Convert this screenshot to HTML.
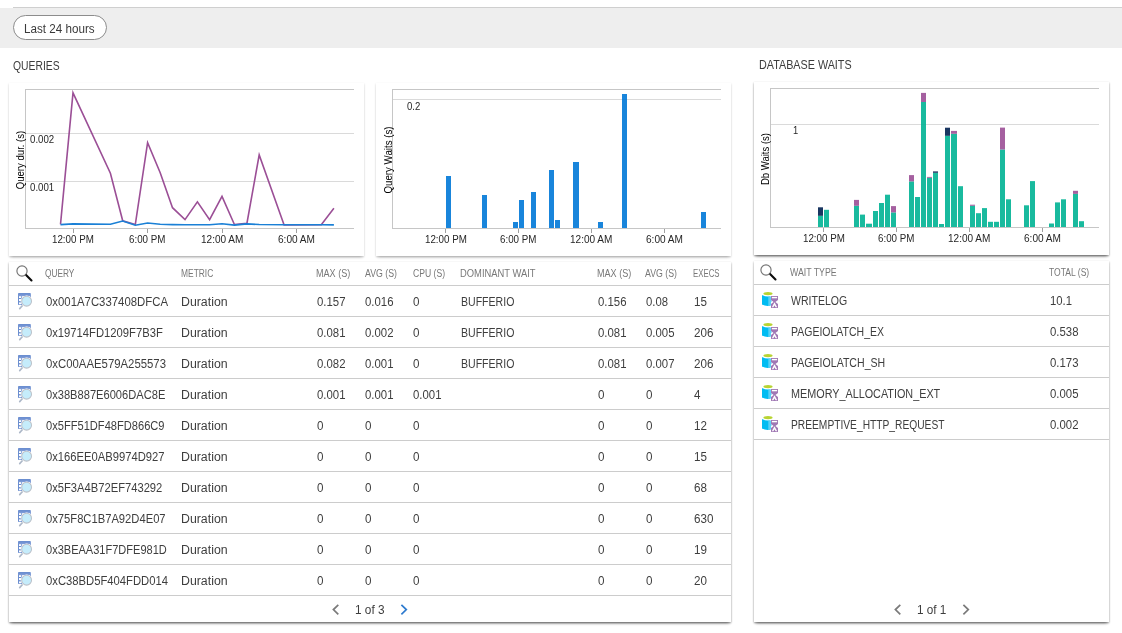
<!DOCTYPE html>
<html lang="en"><head><meta charset="utf-8"><title>Query Performance</title>
<style>
html,body{margin:0;padding:0;background:#fff;}
body{width:1122px;height:633px;position:relative;overflow:hidden;font-family:"Liberation Sans",sans-serif;}
.t{position:absolute;white-space:nowrap;transform-origin:0 0;display:block;}
.r{position:absolute;}
.ov{position:absolute;left:0;top:0;overflow:visible;}
.card{position:absolute;background:#fff;box-shadow:0 1px 2px rgba(0,0,0,.42),0 3px 3px -2px rgba(0,0,0,.45);}
.card.lite{box-shadow:0 1px 2px rgba(0,0,0,.2),0 3px 3px -2px rgba(0,0,0,.24);}
.pill{position:absolute;background:#fff;border:1px solid #8c8c8c;border-radius:13px;}
</style></head><body>
<div class="r" style="left:13px;top:7px;width:1109px;height:1px;background:#cfcfcf;"></div>
<div class="r" style="left:0px;top:8px;width:1122px;height:40px;background:#eeeeee;"></div>
<div class="pill" style="left:13px;top:15px;width:92px;height:23px;"></div>
<span class="t" style="left:24.00px;top:22px;font-size:12px;line-height:14px;color:#3a3a3a;transform:scaleX(0.9709);">Last 24 hours</span>
<span class="t" style="left:13.30px;top:59px;font-size:12px;line-height:14px;color:#3c3c3c;transform:scaleX(0.8628);">QUERIES</span>
<span class="t" style="left:759.30px;top:58px;font-size:12px;line-height:14px;color:#3c3c3c;transform:scaleX(0.8979);">DATABASE WAITS</span>
<div class="card lite" style="left:9px;top:83px;width:355px;height:173px;"></div>
<div class="card lite" style="left:376px;top:83px;width:355px;height:173px;"></div>
<div class="card" style="left:754px;top:82px;width:355px;height:173px;"></div>
<div class="card" style="left:9px;top:262px;width:722px;height:360px;"></div>
<div class="card" style="left:754px;top:261px;width:355px;height:361px;"></div>
<svg class="ov" width="1122" height="633" viewBox="0 0 1122 633"><rect x="25" y="89" width="329" height="1" fill="#c6c6c6"/><rect x="25" y="133" width="329" height="1" fill="#dadada"/><rect x="25" y="181" width="329" height="1" fill="#dadada"/><rect x="25" y="228" width="329" height="1" fill="#c6c6c6"/><rect x="25" y="89" width="1" height="140" fill="#c6c6c6"/><rect x="73" y="229" width="1" height="4" fill="#a0a0a0"/><rect x="147" y="229" width="1" height="4" fill="#a0a0a0"/><rect x="222" y="229" width="1" height="4" fill="#a0a0a0"/><rect x="296" y="229" width="1" height="4" fill="#a0a0a0"/><polyline fill="none" stroke="#9b4f96" stroke-width="1.6" stroke-linejoin="miter" points="60.5,224.3 73.0,92.8 110.4,173.2 122.7,220.8 135.3,224.5 147.6,142.6 160.2,172.7 172.5,207.7 185.0,219.6 197.4,201.8 209.6,219.6 222.0,196.4 234.4,224.5 246.9,223.4 259.2,154.9 284.1,224.9 321.3,224.8 333.9,208.2"/><polyline fill="none" stroke="#1a80d6" stroke-width="1.6" stroke-linejoin="miter" points="60.5,224.6 73.0,223.9 110.4,224.3 122.7,221.0 135.3,225.2 147.6,223.0 160.2,224.3 172.5,224.6 185.0,224.8 209.6,224.8 222.0,223.8 234.4,225.1 246.9,223.9 259.2,224.5 284.1,224.8 321.3,224.7 333.9,224.9"/><rect x="392" y="89" width="329" height="1" fill="#c6c6c6"/><rect x="392" y="99" width="329" height="1" fill="#dadada"/><rect x="392" y="228" width="329" height="1" fill="#c6c6c6"/><rect x="392" y="89" width="1" height="140" fill="#c6c6c6"/><rect x="445" y="229" width="1" height="4" fill="#a0a0a0"/><rect x="518" y="229" width="1" height="4" fill="#a0a0a0"/><rect x="591" y="229" width="1" height="4" fill="#a0a0a0"/><rect x="664" y="229" width="1" height="4" fill="#a0a0a0"/><rect x="446" y="176" width="5" height="52" fill="#0078d7" fill-opacity=".9"/><rect x="482" y="195" width="5" height="33" fill="#0078d7" fill-opacity=".9"/><rect x="513" y="222" width="5" height="6" fill="#0078d7" fill-opacity=".9"/><rect x="519" y="200" width="5" height="28" fill="#0078d7" fill-opacity=".9"/><rect x="531" y="192" width="5" height="36" fill="#0078d7" fill-opacity=".9"/><rect x="549" y="170" width="5" height="58" fill="#0078d7" fill-opacity=".9"/><rect x="555" y="220" width="5" height="8" fill="#0078d7" fill-opacity=".9"/><rect x="573" y="162" width="6" height="66" fill="#0078d7" fill-opacity=".9"/><rect x="598" y="222" width="5" height="6" fill="#0078d7" fill-opacity=".9"/><rect x="622" y="94" width="5" height="134" fill="#0078d7" fill-opacity=".9"/><rect x="701" y="212" width="5" height="16" fill="#0078d7" fill-opacity=".9"/><rect x="770" y="88" width="329" height="1" fill="#c6c6c6"/><rect x="770" y="124" width="329" height="1" fill="#dadada"/><rect x="770" y="227" width="329" height="1" fill="#c6c6c6"/><rect x="770" y="88" width="1" height="140" fill="#c6c6c6"/><rect x="823" y="228" width="1" height="4" fill="#a0a0a0"/><rect x="896" y="228" width="1" height="4" fill="#a0a0a0"/><rect x="969" y="228" width="1" height="4" fill="#a0a0a0"/><rect x="1042" y="228" width="1" height="4" fill="#a0a0a0"/><rect x="818" y="215.8" width="5" height="11.2" fill="#00b294" fill-opacity=".9"/><rect x="818" y="207.3" width="5" height="8.5" fill="#002050" fill-opacity=".9"/><rect x="824" y="209.8" width="5" height="17.2" fill="#00b294" fill-opacity=".9"/><rect x="854" y="205.8" width="5" height="21.2" fill="#00b294" fill-opacity=".9"/><rect x="854" y="199.9" width="5" height="5.9" fill="#9b4f96" fill-opacity=".9"/><rect x="860" y="214.6" width="5" height="12.4" fill="#00b294" fill-opacity=".9"/><rect x="866" y="223.7" width="6" height="3.3" fill="#00b294" fill-opacity=".9"/><rect x="873" y="211.0" width="5" height="16.0" fill="#00b294" fill-opacity=".9"/><rect x="879" y="203.0" width="5" height="24.0" fill="#00b294" fill-opacity=".9"/><rect x="885" y="194.7" width="5" height="32.3" fill="#00b294" fill-opacity=".9"/><rect x="891" y="212.4" width="5" height="14.6" fill="#00b294" fill-opacity=".9"/><rect x="891" y="206.1" width="5" height="6.3" fill="#9b4f96" fill-opacity=".9"/><rect x="909" y="181.4" width="5" height="45.6" fill="#00b294" fill-opacity=".9"/><rect x="909" y="175.1" width="5" height="6.3" fill="#9b4f96" fill-opacity=".9"/><rect x="915" y="197.0" width="5" height="30.0" fill="#00b294" fill-opacity=".9"/><rect x="921" y="102.0" width="5" height="125.0" fill="#00b294" fill-opacity=".9"/><rect x="921" y="92.9" width="5" height="9.1" fill="#9b4f96" fill-opacity=".9"/><rect x="927" y="177.8" width="5" height="49.2" fill="#00b294" fill-opacity=".9"/><rect x="927" y="176.9" width="5" height="0.9" fill="#9b4f96" fill-opacity=".9"/><rect x="933" y="172.8" width="5" height="54.2" fill="#00b294" fill-opacity=".9"/><rect x="933" y="171.4" width="5" height="1.4" fill="#002050" fill-opacity=".9"/><rect x="939" y="224.0" width="5" height="3.0" fill="#00b294" fill-opacity=".9"/><rect x="945" y="135.8" width="5" height="91.2" fill="#00b294" fill-opacity=".9"/><rect x="945" y="127.7" width="5" height="8.1" fill="#002050" fill-opacity=".9"/><rect x="951" y="133.8" width="6" height="93.2" fill="#00b294" fill-opacity=".9"/><rect x="951" y="130.9" width="6" height="2.9" fill="#9b4f96" fill-opacity=".9"/><rect x="958" y="186.2" width="5" height="40.8" fill="#00b294" fill-opacity=".9"/><rect x="970" y="205.8" width="5" height="21.2" fill="#00b294" fill-opacity=".9"/><rect x="970" y="204.7" width="5" height="1.1" fill="#9b4f96" fill-opacity=".9"/><rect x="976" y="213.2" width="5" height="13.8" fill="#00b294" fill-opacity=".9"/><rect x="982" y="208.1" width="5" height="18.9" fill="#00b294" fill-opacity=".9"/><rect x="988" y="221.8" width="5" height="5.2" fill="#00b294" fill-opacity=".9"/><rect x="994" y="221.8" width="5" height="5.2" fill="#00b294" fill-opacity=".9"/><rect x="1000" y="149.5" width="5" height="77.5" fill="#00b294" fill-opacity=".9"/><rect x="1000" y="127.6" width="5" height="21.9" fill="#9b4f96" fill-opacity=".9"/><rect x="1006" y="199.3" width="5" height="27.7" fill="#00b294" fill-opacity=".9"/><rect x="1024" y="205.3" width="5" height="21.7" fill="#00b294" fill-opacity=".9"/><rect x="1030" y="181.1" width="5" height="45.9" fill="#00b294" fill-opacity=".9"/><rect x="1049" y="223.5" width="5" height="3.5" fill="#00b294" fill-opacity=".9"/><rect x="1055" y="202.4" width="5" height="24.6" fill="#00b294" fill-opacity=".9"/><rect x="1061" y="199.3" width="5" height="27.7" fill="#00b294" fill-opacity=".9"/><rect x="1073" y="193.9" width="5" height="33.1" fill="#00b294" fill-opacity=".9"/><rect x="1073" y="190.8" width="5" height="3.1" fill="#9b4f96" fill-opacity=".9"/><rect x="1079" y="221.2" width="5" height="5.8" fill="#00b294" fill-opacity=".9"/></svg>
<span class="t" style="left:29.70px;top:134px;font-size:10px;line-height:12px;color:#262626;transform:scaleX(0.9671);">0.002</span>
<span class="t" style="left:29.70px;top:182px;font-size:10px;line-height:12px;color:#262626;transform:scaleX(0.9671);">0.001</span>
<span class="t" style="left:52.40px;top:234px;font-size:10px;line-height:12px;color:#262626;transform:scaleX(0.9766);">12:00 PM</span>
<span class="t" style="left:129.40px;top:234px;font-size:10px;line-height:12px;color:#262626;transform:scaleX(0.9774);">6:00 PM</span>
<span class="t" style="left:201.10px;top:234px;font-size:10px;line-height:12px;color:#262626;transform:scaleX(1.0035);">12:00 AM</span>
<span class="t" style="left:278.00px;top:234px;font-size:10px;line-height:12px;color:#262626;transform:scaleX(1.0085);">6:00 AM</span>
<span class="t" style="left:24.40px;top:160.40px;font-size:10px;line-height:12px;color:#000;transform-origin:0 0;transform:rotate(-90deg) translate(-29.30px,-9.46px) scaleX(0.9586);">Query dur. (s)</span>
<span class="t" style="left:406.90px;top:101px;font-size:10px;line-height:12px;color:#262626;transform:scaleX(0.9567);">0.2</span>
<span class="t" style="left:424.80px;top:234px;font-size:10px;line-height:12px;color:#262626;transform:scaleX(0.9766);">12:00 PM</span>
<span class="t" style="left:500.40px;top:234px;font-size:10px;line-height:12px;color:#262626;transform:scaleX(0.9774);">6:00 PM</span>
<span class="t" style="left:570.30px;top:234px;font-size:10px;line-height:12px;color:#262626;transform:scaleX(1.0035);">12:00 AM</span>
<span class="t" style="left:645.90px;top:234px;font-size:10px;line-height:12px;color:#262626;transform:scaleX(1.0085);">6:00 AM</span>
<span class="t" style="left:391.60px;top:160.00px;font-size:10px;line-height:12px;color:#000;transform-origin:0 0;transform:rotate(-90deg) translate(-33.50px,-9.46px) scaleX(0.9699);">Query Waits (s)</span>
<span class="t" style="left:792.60px;top:125px;font-size:10px;line-height:12px;color:#262626;transform:scaleX(0.9350);">1</span>
<span class="t" style="left:802.60px;top:233px;font-size:10px;line-height:12px;color:#262626;transform:scaleX(0.9766);">12:00 PM</span>
<span class="t" style="left:878.40px;top:233px;font-size:10px;line-height:12px;color:#262626;transform:scaleX(0.9774);">6:00 PM</span>
<span class="t" style="left:948.30px;top:233px;font-size:10px;line-height:12px;color:#262626;transform:scaleX(1.0035);">12:00 AM</span>
<span class="t" style="left:1024.10px;top:233px;font-size:10px;line-height:12px;color:#262626;transform:scaleX(1.0085);">6:00 AM</span>
<span class="t" style="left:769.20px;top:159.00px;font-size:10px;line-height:12px;color:#000;transform-origin:0 0;transform:rotate(-90deg) translate(-26.00px,-9.46px) scaleX(0.9519);">Db Waits (s)</span>
<div class="r" style="left:9px;top:285px;width:722px;height:1px;background:#cccccc;"></div>
<div class="r" style="left:9px;top:316px;width:722px;height:1px;background:#cccccc;"></div>
<div class="r" style="left:9px;top:347px;width:722px;height:1px;background:#cccccc;"></div>
<div class="r" style="left:9px;top:378px;width:722px;height:1px;background:#cccccc;"></div>
<div class="r" style="left:9px;top:409px;width:722px;height:1px;background:#cccccc;"></div>
<div class="r" style="left:9px;top:440px;width:722px;height:1px;background:#cccccc;"></div>
<div class="r" style="left:9px;top:471px;width:722px;height:1px;background:#cccccc;"></div>
<div class="r" style="left:9px;top:502px;width:722px;height:1px;background:#cccccc;"></div>
<div class="r" style="left:9px;top:533px;width:722px;height:1px;background:#cccccc;"></div>
<div class="r" style="left:9px;top:564px;width:722px;height:1px;background:#cccccc;"></div>
<div class="r" style="left:9px;top:595px;width:722px;height:1px;background:#cccccc;"></div>
<div class="r" style="left:754px;top:284px;width:355px;height:1px;background:#cccccc;"></div>
<div class="r" style="left:754px;top:315px;width:355px;height:1px;background:#cccccc;"></div>
<div class="r" style="left:754px;top:346px;width:355px;height:1px;background:#cccccc;"></div>
<div class="r" style="left:754px;top:377px;width:355px;height:1px;background:#cccccc;"></div>
<div class="r" style="left:754px;top:408px;width:355px;height:1px;background:#cccccc;"></div>
<div class="r" style="left:754px;top:439px;width:355px;height:1px;background:#cccccc;"></div>
<svg class="ov" style="left:13.5px;top:262.7px" width="22" height="22" viewBox="-8 -8 22 22"><circle cx="0" cy="0" r="5.1" fill="none" stroke="#747474" stroke-width="1.15"/><path d="M4.3 4.2 L9.5 9.4" stroke="#0c0c0c" stroke-width="2.1" stroke-linecap="round"/></svg>
<svg class="ov" style="left:758.3px;top:261.7px" width="22" height="22" viewBox="-8 -8 22 22"><circle cx="0" cy="0" r="5.1" fill="none" stroke="#747474" stroke-width="1.15"/><path d="M4.3 4.2 L9.5 9.4" stroke="#0c0c0c" stroke-width="2.1" stroke-linecap="round"/></svg>
<span class="t" style="left:45.00px;top:268px;font-size:10px;line-height:12px;color:#787878;transform:scaleX(0.8281);">QUERY</span>
<span class="t" style="left:180.60px;top:268px;font-size:10px;line-height:12px;color:#787878;transform:scaleX(0.8427);">METRIC</span>
<span class="t" style="left:316.20px;top:268px;font-size:10px;line-height:12px;color:#787878;transform:scaleX(0.9079);">MAX (S)</span>
<span class="t" style="left:364.70px;top:268px;font-size:10px;line-height:12px;color:#787878;transform:scaleX(0.8771);">AVG (S)</span>
<span class="t" style="left:412.70px;top:268px;font-size:10px;line-height:12px;color:#787878;transform:scaleX(0.8597);">CPU (S)</span>
<span class="t" style="left:460.40px;top:268px;font-size:10px;line-height:12px;color:#787878;transform:scaleX(0.9385);">DOMINANT WAIT</span>
<span class="t" style="left:596.50px;top:268px;font-size:10px;line-height:12px;color:#787878;transform:scaleX(0.9079);">MAX (S)</span>
<span class="t" style="left:644.70px;top:268px;font-size:10px;line-height:12px;color:#787878;transform:scaleX(0.8771);">AVG (S)</span>
<span class="t" style="left:693.00px;top:268px;font-size:10px;line-height:12px;color:#787878;transform:scaleX(0.7817);">EXECS</span>
<span class="t" style="left:789.70px;top:267px;font-size:10px;line-height:12px;color:#787878;transform:scaleX(0.8785);">WAIT TYPE</span>
<span class="t" style="left:1048.80px;top:267px;font-size:10px;line-height:12px;color:#787878;transform:scaleX(0.8546);">TOTAL (S)</span>
<svg class="ov" style="left:18px;top:293px" width="16" height="17" viewBox="0 0 16 17"><rect x="0" y="0" width="12.8" height="12" rx="0.8" fill="#6b8ed0"/><rect x="0.4" y="1.6" width="12" height="1.6" fill="#7c9ad6"/><rect x="1" y="3.2" width="2.2" height="1.8" fill="#fff"/><rect x="1" y="6" width="2.2" height="2.1" fill="#fff"/><rect x="1" y="9.4" width="2.2" height="1.9" fill="#fff"/><rect x="3.9" y="3.2" width="8" height="8.1" fill="#fff"/><path d="M4.5 12.5 L1.7 15.6" stroke="#adb8c8" stroke-width="1.6" stroke-linecap="round"/><circle cx="8.6" cy="8.2" r="5.8" fill="#fff"/><circle cx="8.6" cy="8.2" r="4.9" fill="#c5ecfb" stroke="#bcc1c9" stroke-width="1.05"/></svg>
<span class="t" style="left:45.50px;top:295px;font-size:12px;line-height:14px;color:#3e3e3e;transform:scaleX(0.9476);">0x001A7C337408DFCA</span>
<span class="t" style="left:181.30px;top:295px;font-size:12px;line-height:14px;color:#3e3e3e;transform:scaleX(1.0274);">Duration</span>
<span class="t" style="left:317.30px;top:295px;font-size:12px;line-height:14px;color:#3e3e3e;transform:scaleX(0.9484);">0.157</span>
<span class="t" style="left:365.30px;top:295px;font-size:12px;line-height:14px;color:#3e3e3e;transform:scaleX(0.9484);">0.016</span>
<span class="t" style="left:413.30px;top:295px;font-size:12px;line-height:14px;color:#3e3e3e;transform:scaleX(0.9695);">0</span>
<span class="t" style="left:597.60px;top:295px;font-size:12px;line-height:14px;color:#3e3e3e;transform:scaleX(0.9484);">0.156</span>
<span class="t" style="left:645.60px;top:295px;font-size:12px;line-height:14px;color:#3e3e3e;transform:scaleX(0.9424);">0.08</span>
<span class="t" style="left:693.60px;top:295px;font-size:12px;line-height:14px;color:#3e3e3e;transform:scaleX(0.9695);">15</span>
<span class="t" style="left:461.20px;top:295px;font-size:12px;line-height:14px;color:#3e3e3e;transform:scaleX(0.8802);">BUFFERIO</span>
<svg class="ov" style="left:18px;top:324px" width="16" height="17" viewBox="0 0 16 17"><rect x="0" y="0" width="12.8" height="12" rx="0.8" fill="#6b8ed0"/><rect x="0.4" y="1.6" width="12" height="1.6" fill="#7c9ad6"/><rect x="1" y="3.2" width="2.2" height="1.8" fill="#fff"/><rect x="1" y="6" width="2.2" height="2.1" fill="#fff"/><rect x="1" y="9.4" width="2.2" height="1.9" fill="#fff"/><rect x="3.9" y="3.2" width="8" height="8.1" fill="#fff"/><path d="M4.5 12.5 L1.7 15.6" stroke="#adb8c8" stroke-width="1.6" stroke-linecap="round"/><circle cx="8.6" cy="8.2" r="5.8" fill="#fff"/><circle cx="8.6" cy="8.2" r="4.9" fill="#c5ecfb" stroke="#bcc1c9" stroke-width="1.05"/></svg>
<span class="t" style="left:45.50px;top:326px;font-size:12px;line-height:14px;color:#3e3e3e;transform:scaleX(0.9363);">0x19714FD1209F7B3F</span>
<span class="t" style="left:181.30px;top:326px;font-size:12px;line-height:14px;color:#3e3e3e;transform:scaleX(1.0274);">Duration</span>
<span class="t" style="left:317.30px;top:326px;font-size:12px;line-height:14px;color:#3e3e3e;transform:scaleX(0.9484);">0.081</span>
<span class="t" style="left:365.30px;top:326px;font-size:12px;line-height:14px;color:#3e3e3e;transform:scaleX(0.9484);">0.002</span>
<span class="t" style="left:413.30px;top:326px;font-size:12px;line-height:14px;color:#3e3e3e;transform:scaleX(0.9695);">0</span>
<span class="t" style="left:597.60px;top:326px;font-size:12px;line-height:14px;color:#3e3e3e;transform:scaleX(0.9484);">0.081</span>
<span class="t" style="left:645.60px;top:326px;font-size:12px;line-height:14px;color:#3e3e3e;transform:scaleX(0.9484);">0.005</span>
<span class="t" style="left:693.60px;top:326px;font-size:12px;line-height:14px;color:#3e3e3e;transform:scaleX(0.9695);">206</span>
<span class="t" style="left:461.20px;top:326px;font-size:12px;line-height:14px;color:#3e3e3e;transform:scaleX(0.8802);">BUFFERIO</span>
<svg class="ov" style="left:18px;top:355px" width="16" height="17" viewBox="0 0 16 17"><rect x="0" y="0" width="12.8" height="12" rx="0.8" fill="#6b8ed0"/><rect x="0.4" y="1.6" width="12" height="1.6" fill="#7c9ad6"/><rect x="1" y="3.2" width="2.2" height="1.8" fill="#fff"/><rect x="1" y="6" width="2.2" height="2.1" fill="#fff"/><rect x="1" y="9.4" width="2.2" height="1.9" fill="#fff"/><rect x="3.9" y="3.2" width="8" height="8.1" fill="#fff"/><path d="M4.5 12.5 L1.7 15.6" stroke="#adb8c8" stroke-width="1.6" stroke-linecap="round"/><circle cx="8.6" cy="8.2" r="5.8" fill="#fff"/><circle cx="8.6" cy="8.2" r="4.9" fill="#c5ecfb" stroke="#bcc1c9" stroke-width="1.05"/></svg>
<span class="t" style="left:45.50px;top:357px;font-size:12px;line-height:14px;color:#3e3e3e;transform:scaleX(0.9466);">0xC00AAE579A255573</span>
<span class="t" style="left:181.30px;top:357px;font-size:12px;line-height:14px;color:#3e3e3e;transform:scaleX(1.0274);">Duration</span>
<span class="t" style="left:317.30px;top:357px;font-size:12px;line-height:14px;color:#3e3e3e;transform:scaleX(0.9484);">0.082</span>
<span class="t" style="left:365.30px;top:357px;font-size:12px;line-height:14px;color:#3e3e3e;transform:scaleX(0.9484);">0.001</span>
<span class="t" style="left:413.30px;top:357px;font-size:12px;line-height:14px;color:#3e3e3e;transform:scaleX(0.9695);">0</span>
<span class="t" style="left:597.60px;top:357px;font-size:12px;line-height:14px;color:#3e3e3e;transform:scaleX(0.9484);">0.081</span>
<span class="t" style="left:645.60px;top:357px;font-size:12px;line-height:14px;color:#3e3e3e;transform:scaleX(0.9484);">0.007</span>
<span class="t" style="left:693.60px;top:357px;font-size:12px;line-height:14px;color:#3e3e3e;transform:scaleX(0.9695);">206</span>
<span class="t" style="left:461.20px;top:357px;font-size:12px;line-height:14px;color:#3e3e3e;transform:scaleX(0.8802);">BUFFERIO</span>
<svg class="ov" style="left:18px;top:386px" width="16" height="17" viewBox="0 0 16 17"><rect x="0" y="0" width="12.8" height="12" rx="0.8" fill="#6b8ed0"/><rect x="0.4" y="1.6" width="12" height="1.6" fill="#7c9ad6"/><rect x="1" y="3.2" width="2.2" height="1.8" fill="#fff"/><rect x="1" y="6" width="2.2" height="2.1" fill="#fff"/><rect x="1" y="9.4" width="2.2" height="1.9" fill="#fff"/><rect x="3.9" y="3.2" width="8" height="8.1" fill="#fff"/><path d="M4.5 12.5 L1.7 15.6" stroke="#adb8c8" stroke-width="1.6" stroke-linecap="round"/><circle cx="8.6" cy="8.2" r="5.8" fill="#fff"/><circle cx="8.6" cy="8.2" r="4.9" fill="#c5ecfb" stroke="#bcc1c9" stroke-width="1.05"/></svg>
<span class="t" style="left:45.50px;top:388px;font-size:12px;line-height:14px;color:#3e3e3e;transform:scaleX(0.9265);">0x38B887E6006DAC8E</span>
<span class="t" style="left:181.30px;top:388px;font-size:12px;line-height:14px;color:#3e3e3e;transform:scaleX(1.0274);">Duration</span>
<span class="t" style="left:317.30px;top:388px;font-size:12px;line-height:14px;color:#3e3e3e;transform:scaleX(0.9484);">0.001</span>
<span class="t" style="left:365.30px;top:388px;font-size:12px;line-height:14px;color:#3e3e3e;transform:scaleX(0.9484);">0.001</span>
<span class="t" style="left:413.30px;top:388px;font-size:12px;line-height:14px;color:#3e3e3e;transform:scaleX(0.9484);">0.001</span>
<span class="t" style="left:597.60px;top:388px;font-size:12px;line-height:14px;color:#3e3e3e;transform:scaleX(0.9695);">0</span>
<span class="t" style="left:645.60px;top:388px;font-size:12px;line-height:14px;color:#3e3e3e;transform:scaleX(0.9695);">0</span>
<span class="t" style="left:693.60px;top:388px;font-size:12px;line-height:14px;color:#3e3e3e;transform:scaleX(0.9695);">4</span>
<svg class="ov" style="left:18px;top:417px" width="16" height="17" viewBox="0 0 16 17"><rect x="0" y="0" width="12.8" height="12" rx="0.8" fill="#6b8ed0"/><rect x="0.4" y="1.6" width="12" height="1.6" fill="#7c9ad6"/><rect x="1" y="3.2" width="2.2" height="1.8" fill="#fff"/><rect x="1" y="6" width="2.2" height="2.1" fill="#fff"/><rect x="1" y="9.4" width="2.2" height="1.9" fill="#fff"/><rect x="3.9" y="3.2" width="8" height="8.1" fill="#fff"/><path d="M4.5 12.5 L1.7 15.6" stroke="#adb8c8" stroke-width="1.6" stroke-linecap="round"/><circle cx="8.6" cy="8.2" r="5.8" fill="#fff"/><circle cx="8.6" cy="8.2" r="4.9" fill="#c5ecfb" stroke="#bcc1c9" stroke-width="1.05"/></svg>
<span class="t" style="left:45.50px;top:419px;font-size:12px;line-height:14px;color:#3e3e3e;transform:scaleX(0.9254);">0x5FF51DF48FD866C9</span>
<span class="t" style="left:181.30px;top:419px;font-size:12px;line-height:14px;color:#3e3e3e;transform:scaleX(1.0274);">Duration</span>
<span class="t" style="left:317.30px;top:419px;font-size:12px;line-height:14px;color:#3e3e3e;transform:scaleX(0.9695);">0</span>
<span class="t" style="left:365.30px;top:419px;font-size:12px;line-height:14px;color:#3e3e3e;transform:scaleX(0.9695);">0</span>
<span class="t" style="left:413.30px;top:419px;font-size:12px;line-height:14px;color:#3e3e3e;transform:scaleX(0.9695);">0</span>
<span class="t" style="left:597.60px;top:419px;font-size:12px;line-height:14px;color:#3e3e3e;transform:scaleX(0.9695);">0</span>
<span class="t" style="left:645.60px;top:419px;font-size:12px;line-height:14px;color:#3e3e3e;transform:scaleX(0.9695);">0</span>
<span class="t" style="left:693.60px;top:419px;font-size:12px;line-height:14px;color:#3e3e3e;transform:scaleX(0.9695);">12</span>
<svg class="ov" style="left:18px;top:448px" width="16" height="17" viewBox="0 0 16 17"><rect x="0" y="0" width="12.8" height="12" rx="0.8" fill="#6b8ed0"/><rect x="0.4" y="1.6" width="12" height="1.6" fill="#7c9ad6"/><rect x="1" y="3.2" width="2.2" height="1.8" fill="#fff"/><rect x="1" y="6" width="2.2" height="2.1" fill="#fff"/><rect x="1" y="9.4" width="2.2" height="1.9" fill="#fff"/><rect x="3.9" y="3.2" width="8" height="8.1" fill="#fff"/><path d="M4.5 12.5 L1.7 15.6" stroke="#adb8c8" stroke-width="1.6" stroke-linecap="round"/><circle cx="8.6" cy="8.2" r="5.8" fill="#fff"/><circle cx="8.6" cy="8.2" r="4.9" fill="#c5ecfb" stroke="#bcc1c9" stroke-width="1.05"/></svg>
<span class="t" style="left:45.50px;top:450px;font-size:12px;line-height:14px;color:#3e3e3e;transform:scaleX(0.9348);">0x166EE0AB9974D927</span>
<span class="t" style="left:181.30px;top:450px;font-size:12px;line-height:14px;color:#3e3e3e;transform:scaleX(1.0274);">Duration</span>
<span class="t" style="left:317.30px;top:450px;font-size:12px;line-height:14px;color:#3e3e3e;transform:scaleX(0.9695);">0</span>
<span class="t" style="left:365.30px;top:450px;font-size:12px;line-height:14px;color:#3e3e3e;transform:scaleX(0.9695);">0</span>
<span class="t" style="left:413.30px;top:450px;font-size:12px;line-height:14px;color:#3e3e3e;transform:scaleX(0.9695);">0</span>
<span class="t" style="left:597.60px;top:450px;font-size:12px;line-height:14px;color:#3e3e3e;transform:scaleX(0.9695);">0</span>
<span class="t" style="left:645.60px;top:450px;font-size:12px;line-height:14px;color:#3e3e3e;transform:scaleX(0.9695);">0</span>
<span class="t" style="left:693.60px;top:450px;font-size:12px;line-height:14px;color:#3e3e3e;transform:scaleX(0.9695);">15</span>
<svg class="ov" style="left:18px;top:479px" width="16" height="17" viewBox="0 0 16 17"><rect x="0" y="0" width="12.8" height="12" rx="0.8" fill="#6b8ed0"/><rect x="0.4" y="1.6" width="12" height="1.6" fill="#7c9ad6"/><rect x="1" y="3.2" width="2.2" height="1.8" fill="#fff"/><rect x="1" y="6" width="2.2" height="2.1" fill="#fff"/><rect x="1" y="9.4" width="2.2" height="1.9" fill="#fff"/><rect x="3.9" y="3.2" width="8" height="8.1" fill="#fff"/><path d="M4.5 12.5 L1.7 15.6" stroke="#adb8c8" stroke-width="1.6" stroke-linecap="round"/><circle cx="8.6" cy="8.2" r="5.8" fill="#fff"/><circle cx="8.6" cy="8.2" r="4.9" fill="#c5ecfb" stroke="#bcc1c9" stroke-width="1.05"/></svg>
<span class="t" style="left:45.50px;top:481px;font-size:12px;line-height:14px;color:#3e3e3e;transform:scaleX(0.9322);">0x5F3A4B72EF743292</span>
<span class="t" style="left:181.30px;top:481px;font-size:12px;line-height:14px;color:#3e3e3e;transform:scaleX(1.0274);">Duration</span>
<span class="t" style="left:317.30px;top:481px;font-size:12px;line-height:14px;color:#3e3e3e;transform:scaleX(0.9695);">0</span>
<span class="t" style="left:365.30px;top:481px;font-size:12px;line-height:14px;color:#3e3e3e;transform:scaleX(0.9695);">0</span>
<span class="t" style="left:413.30px;top:481px;font-size:12px;line-height:14px;color:#3e3e3e;transform:scaleX(0.9695);">0</span>
<span class="t" style="left:597.60px;top:481px;font-size:12px;line-height:14px;color:#3e3e3e;transform:scaleX(0.9695);">0</span>
<span class="t" style="left:645.60px;top:481px;font-size:12px;line-height:14px;color:#3e3e3e;transform:scaleX(0.9695);">0</span>
<span class="t" style="left:693.60px;top:481px;font-size:12px;line-height:14px;color:#3e3e3e;transform:scaleX(0.9695);">68</span>
<svg class="ov" style="left:18px;top:510px" width="16" height="17" viewBox="0 0 16 17"><rect x="0" y="0" width="12.8" height="12" rx="0.8" fill="#6b8ed0"/><rect x="0.4" y="1.6" width="12" height="1.6" fill="#7c9ad6"/><rect x="1" y="3.2" width="2.2" height="1.8" fill="#fff"/><rect x="1" y="6" width="2.2" height="2.1" fill="#fff"/><rect x="1" y="9.4" width="2.2" height="1.9" fill="#fff"/><rect x="3.9" y="3.2" width="8" height="8.1" fill="#fff"/><path d="M4.5 12.5 L1.7 15.6" stroke="#adb8c8" stroke-width="1.6" stroke-linecap="round"/><circle cx="8.6" cy="8.2" r="5.8" fill="#fff"/><circle cx="8.6" cy="8.2" r="4.9" fill="#c5ecfb" stroke="#bcc1c9" stroke-width="1.05"/></svg>
<span class="t" style="left:45.50px;top:512px;font-size:12px;line-height:14px;color:#3e3e3e;transform:scaleX(0.9337);">0x75F8C1B7A92D4E07</span>
<span class="t" style="left:181.30px;top:512px;font-size:12px;line-height:14px;color:#3e3e3e;transform:scaleX(1.0274);">Duration</span>
<span class="t" style="left:317.30px;top:512px;font-size:12px;line-height:14px;color:#3e3e3e;transform:scaleX(0.9695);">0</span>
<span class="t" style="left:365.30px;top:512px;font-size:12px;line-height:14px;color:#3e3e3e;transform:scaleX(0.9695);">0</span>
<span class="t" style="left:413.30px;top:512px;font-size:12px;line-height:14px;color:#3e3e3e;transform:scaleX(0.9695);">0</span>
<span class="t" style="left:597.60px;top:512px;font-size:12px;line-height:14px;color:#3e3e3e;transform:scaleX(0.9695);">0</span>
<span class="t" style="left:645.60px;top:512px;font-size:12px;line-height:14px;color:#3e3e3e;transform:scaleX(0.9695);">0</span>
<span class="t" style="left:693.60px;top:512px;font-size:12px;line-height:14px;color:#3e3e3e;transform:scaleX(0.9695);">630</span>
<svg class="ov" style="left:18px;top:541px" width="16" height="17" viewBox="0 0 16 17"><rect x="0" y="0" width="12.8" height="12" rx="0.8" fill="#6b8ed0"/><rect x="0.4" y="1.6" width="12" height="1.6" fill="#7c9ad6"/><rect x="1" y="3.2" width="2.2" height="1.8" fill="#fff"/><rect x="1" y="6" width="2.2" height="2.1" fill="#fff"/><rect x="1" y="9.4" width="2.2" height="1.9" fill="#fff"/><rect x="3.9" y="3.2" width="8" height="8.1" fill="#fff"/><path d="M4.5 12.5 L1.7 15.6" stroke="#adb8c8" stroke-width="1.6" stroke-linecap="round"/><circle cx="8.6" cy="8.2" r="5.8" fill="#fff"/><circle cx="8.6" cy="8.2" r="4.9" fill="#c5ecfb" stroke="#bcc1c9" stroke-width="1.05"/></svg>
<span class="t" style="left:45.50px;top:543px;font-size:12px;line-height:14px;color:#3e3e3e;transform:scaleX(0.9193);">0x3BEAA31F7DFE981D</span>
<span class="t" style="left:181.30px;top:543px;font-size:12px;line-height:14px;color:#3e3e3e;transform:scaleX(1.0274);">Duration</span>
<span class="t" style="left:317.30px;top:543px;font-size:12px;line-height:14px;color:#3e3e3e;transform:scaleX(0.9695);">0</span>
<span class="t" style="left:365.30px;top:543px;font-size:12px;line-height:14px;color:#3e3e3e;transform:scaleX(0.9695);">0</span>
<span class="t" style="left:413.30px;top:543px;font-size:12px;line-height:14px;color:#3e3e3e;transform:scaleX(0.9695);">0</span>
<span class="t" style="left:597.60px;top:543px;font-size:12px;line-height:14px;color:#3e3e3e;transform:scaleX(0.9695);">0</span>
<span class="t" style="left:645.60px;top:543px;font-size:12px;line-height:14px;color:#3e3e3e;transform:scaleX(0.9695);">0</span>
<span class="t" style="left:693.60px;top:543px;font-size:12px;line-height:14px;color:#3e3e3e;transform:scaleX(0.9695);">19</span>
<svg class="ov" style="left:18px;top:572px" width="16" height="17" viewBox="0 0 16 17"><rect x="0" y="0" width="12.8" height="12" rx="0.8" fill="#6b8ed0"/><rect x="0.4" y="1.6" width="12" height="1.6" fill="#7c9ad6"/><rect x="1" y="3.2" width="2.2" height="1.8" fill="#fff"/><rect x="1" y="6" width="2.2" height="2.1" fill="#fff"/><rect x="1" y="9.4" width="2.2" height="1.9" fill="#fff"/><rect x="3.9" y="3.2" width="8" height="8.1" fill="#fff"/><path d="M4.5 12.5 L1.7 15.6" stroke="#adb8c8" stroke-width="1.6" stroke-linecap="round"/><circle cx="8.6" cy="8.2" r="5.8" fill="#fff"/><circle cx="8.6" cy="8.2" r="4.9" fill="#c5ecfb" stroke="#bcc1c9" stroke-width="1.05"/></svg>
<span class="t" style="left:45.50px;top:574px;font-size:12px;line-height:14px;color:#3e3e3e;transform:scaleX(0.9380);">0xC38BD5F404FDD014</span>
<span class="t" style="left:181.30px;top:574px;font-size:12px;line-height:14px;color:#3e3e3e;transform:scaleX(1.0274);">Duration</span>
<span class="t" style="left:317.30px;top:574px;font-size:12px;line-height:14px;color:#3e3e3e;transform:scaleX(0.9695);">0</span>
<span class="t" style="left:365.30px;top:574px;font-size:12px;line-height:14px;color:#3e3e3e;transform:scaleX(0.9695);">0</span>
<span class="t" style="left:413.30px;top:574px;font-size:12px;line-height:14px;color:#3e3e3e;transform:scaleX(0.9695);">0</span>
<span class="t" style="left:597.60px;top:574px;font-size:12px;line-height:14px;color:#3e3e3e;transform:scaleX(0.9695);">0</span>
<span class="t" style="left:645.60px;top:574px;font-size:12px;line-height:14px;color:#3e3e3e;transform:scaleX(0.9695);">0</span>
<span class="t" style="left:693.60px;top:574px;font-size:12px;line-height:14px;color:#3e3e3e;transform:scaleX(0.9695);">20</span>
<svg class="ov" style="left:761px;top:291px" width="18" height="18" viewBox="0 0 18 18"><path d="M1 4 Q5 6.2 9.6 5.4 L9.6 14.6 Q5 15.6 1 13.6 Z" fill="#00bcf2"/><path d="M7.3 5.6 L9.6 5.4 L9.6 8.6 L11 10 L9.6 11.4 L9.6 14.6 L7.3 15 Z" fill="#59d0f5"/><ellipse cx="7" cy="2.6" rx="4.6" ry="1.6" fill="#b8d432"/><path d="M10 5 H17 V9 L14.4 11 L17 13 V17 H10 V13 L12.6 11 L10 9 Z" fill="#a078b4"/><rect x="10.9" y="5.9" width="5.2" height="1.4" fill="#fff"/><path d="M10.8 16.3 L13.5 11.3 L16.2 16.3 L14.6 16.3 L13.5 14.2 L12.4 16.3 Z" fill="#fff"/></svg>
<span class="t" style="left:791.00px;top:294px;font-size:12px;line-height:14px;color:#3e3e3e;transform:scaleX(0.8781);">WRITELOG</span>
<span class="t" style="left:1050.00px;top:294px;font-size:12px;line-height:14px;color:#3e3e3e;transform:scaleX(0.9424);">10.1</span>
<svg class="ov" style="left:761px;top:322px" width="18" height="18" viewBox="0 0 18 18"><path d="M1 4 Q5 6.2 9.6 5.4 L9.6 14.6 Q5 15.6 1 13.6 Z" fill="#00bcf2"/><path d="M7.3 5.6 L9.6 5.4 L9.6 8.6 L11 10 L9.6 11.4 L9.6 14.6 L7.3 15 Z" fill="#59d0f5"/><ellipse cx="7" cy="2.6" rx="4.6" ry="1.6" fill="#b8d432"/><path d="M10 5 H17 V9 L14.4 11 L17 13 V17 H10 V13 L12.6 11 L10 9 Z" fill="#a078b4"/><rect x="10.9" y="5.9" width="5.2" height="1.4" fill="#fff"/><path d="M10.8 16.3 L13.5 11.3 L16.2 16.3 L14.6 16.3 L13.5 14.2 L12.4 16.3 Z" fill="#fff"/></svg>
<span class="t" style="left:791.00px;top:325px;font-size:12px;line-height:14px;color:#3e3e3e;transform:scaleX(0.8753);">PAGEIOLATCH_EX</span>
<span class="t" style="left:1050.00px;top:325px;font-size:12px;line-height:14px;color:#3e3e3e;transform:scaleX(0.9484);">0.538</span>
<svg class="ov" style="left:761px;top:353px" width="18" height="18" viewBox="0 0 18 18"><path d="M1 4 Q5 6.2 9.6 5.4 L9.6 14.6 Q5 15.6 1 13.6 Z" fill="#00bcf2"/><path d="M7.3 5.6 L9.6 5.4 L9.6 8.6 L11 10 L9.6 11.4 L9.6 14.6 L7.3 15 Z" fill="#59d0f5"/><ellipse cx="7" cy="2.6" rx="4.6" ry="1.6" fill="#b8d432"/><path d="M10 5 H17 V9 L14.4 11 L17 13 V17 H10 V13 L12.6 11 L10 9 Z" fill="#a078b4"/><rect x="10.9" y="5.9" width="5.2" height="1.4" fill="#fff"/><path d="M10.8 16.3 L13.5 11.3 L16.2 16.3 L14.6 16.3 L13.5 14.2 L12.4 16.3 Z" fill="#fff"/></svg>
<span class="t" style="left:791.00px;top:356px;font-size:12px;line-height:14px;color:#3e3e3e;transform:scaleX(0.8811);">PAGEIOLATCH_SH</span>
<span class="t" style="left:1050.00px;top:356px;font-size:12px;line-height:14px;color:#3e3e3e;transform:scaleX(0.9484);">0.173</span>
<svg class="ov" style="left:761px;top:384px" width="18" height="18" viewBox="0 0 18 18"><path d="M1 4 Q5 6.2 9.6 5.4 L9.6 14.6 Q5 15.6 1 13.6 Z" fill="#00bcf2"/><path d="M7.3 5.6 L9.6 5.4 L9.6 8.6 L11 10 L9.6 11.4 L9.6 14.6 L7.3 15 Z" fill="#59d0f5"/><ellipse cx="7" cy="2.6" rx="4.6" ry="1.6" fill="#b8d432"/><path d="M10 5 H17 V9 L14.4 11 L17 13 V17 H10 V13 L12.6 11 L10 9 Z" fill="#a078b4"/><rect x="10.9" y="5.9" width="5.2" height="1.4" fill="#fff"/><path d="M10.8 16.3 L13.5 11.3 L16.2 16.3 L14.6 16.3 L13.5 14.2 L12.4 16.3 Z" fill="#fff"/></svg>
<span class="t" style="left:791.00px;top:387px;font-size:12px;line-height:14px;color:#3e3e3e;transform:scaleX(0.9010);">MEMORY_ALLOCATION_EXT</span>
<span class="t" style="left:1050.00px;top:387px;font-size:12px;line-height:14px;color:#3e3e3e;transform:scaleX(0.9484);">0.005</span>
<svg class="ov" style="left:761px;top:415px" width="18" height="18" viewBox="0 0 18 18"><path d="M1 4 Q5 6.2 9.6 5.4 L9.6 14.6 Q5 15.6 1 13.6 Z" fill="#00bcf2"/><path d="M7.3 5.6 L9.6 5.4 L9.6 8.6 L11 10 L9.6 11.4 L9.6 14.6 L7.3 15 Z" fill="#59d0f5"/><ellipse cx="7" cy="2.6" rx="4.6" ry="1.6" fill="#b8d432"/><path d="M10 5 H17 V9 L14.4 11 L17 13 V17 H10 V13 L12.6 11 L10 9 Z" fill="#a078b4"/><rect x="10.9" y="5.9" width="5.2" height="1.4" fill="#fff"/><path d="M10.8 16.3 L13.5 11.3 L16.2 16.3 L14.6 16.3 L13.5 14.2 L12.4 16.3 Z" fill="#fff"/></svg>
<span class="t" style="left:791.00px;top:418px;font-size:12px;line-height:14px;color:#3e3e3e;transform:scaleX(0.8526);">PREEMPTIVE_HTTP_REQUEST</span>
<span class="t" style="left:1050.00px;top:418px;font-size:12px;line-height:14px;color:#3e3e3e;transform:scaleX(0.9484);">0.002</span>
<svg class="ov" style="left:331.9px;top:604px" width="8" height="12" viewBox="0 0 8 12"><path d="M6.3 0.9 L1.4 5.6 L6.3 10.3" fill="none" stroke="#7a7a7a" stroke-width="1.7"/></svg>
<svg class="ov" style="left:400.1px;top:604px" width="8" height="12" viewBox="0 0 8 12"><path d="M1.4 0.9 L6.3 5.6 L1.4 10.3" fill="none" stroke="#2e7bcf" stroke-width="1.7"/></svg>
<span class="t" style="left:355.30px;top:603px;font-size:12px;line-height:14px;color:#3e3e3e;transform:scaleX(0.9859);">1 of 3</span>
<svg class="ov" style="left:893.9px;top:604px" width="8" height="12" viewBox="0 0 8 12"><path d="M6.3 0.9 L1.4 5.6 L6.3 10.3" fill="none" stroke="#7a7a7a" stroke-width="1.7"/></svg>
<svg class="ov" style="left:962.1px;top:604px" width="8" height="12" viewBox="0 0 8 12"><path d="M1.4 0.9 L6.3 5.6 L1.4 10.3" fill="none" stroke="#7a7a7a" stroke-width="1.7"/></svg>
<span class="t" style="left:916.60px;top:603px;font-size:12px;line-height:14px;color:#3e3e3e;transform:scaleX(0.9792);">1 of 1</span>
</body></html>
